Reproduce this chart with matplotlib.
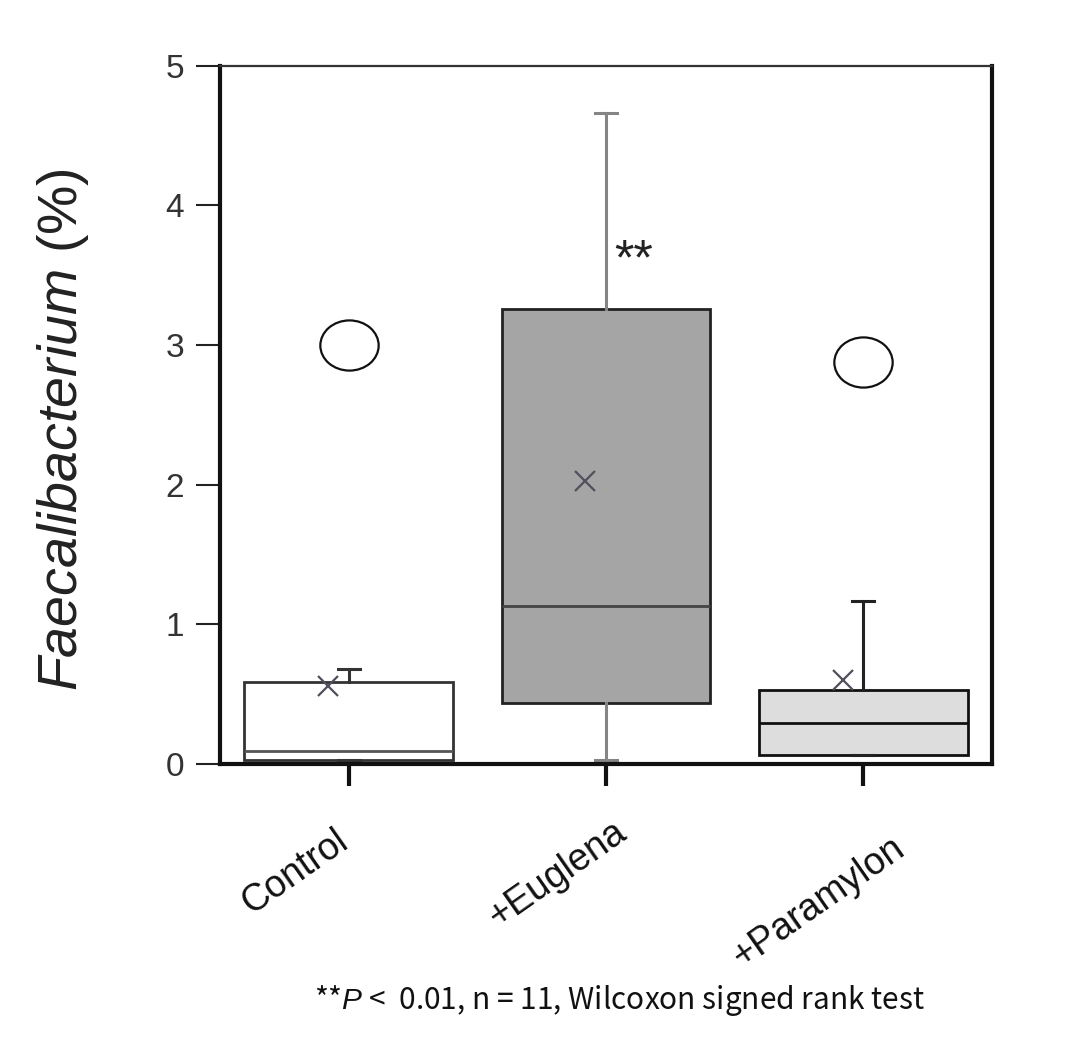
import numpy as np
import matplotlib
matplotlib.use("Agg")
import matplotlib.pyplot as plt
from matplotlib.path import Path

# box summaries (% Faecalibacterium)
groups = ["Control", "+Euglena", "+Paramylon"]
q1 = [0.03, 0.44, 0.065]
medians = [0.09, 1.13, 0.29]
q3 = [0.59, 3.26, 0.53]
whis_lo = [0.03, 0.03, 0.065]
whis_hi = [0.68, 4.66, 1.17]
means = [0.56, 2.03, 0.60]
outliers = [[3.0], [], [2.88]]

plt.rcParams["font.family"] = ["Liberation Sans", "DejaVu Sans"]
plt.rcParams["mathtext.fontset"] = "custom"
plt.rcParams["mathtext.it"] = "Liberation Sans:italic"
plt.rcParams["mathtext.rm"] = "Liberation Sans"

fig = plt.figure(figsize=(10.92, 10.39), dpi=100)
ax = fig.add_axes([0.2015, 0.2647, 0.707, 0.672])

pos = np.arange(1, len(groups) + 1)
stats = []
for i in range(len(groups)):
    stats.append(dict(med=medians[i], q1=q1[i], q3=q3[i],
                      whislo=whis_lo[i], whishi=whis_hi[i],
                      fliers=outliers[i], label=groups[i]))

# slightly squashed circle for outliers
circ = Path.unit_circle()
oval = Path(circ.vertices * [1.0, 0.86], circ.codes)

bp = ax.bxp(stats, positions=pos, widths=0.81, capwidths=0.085,
            patch_artist=True, showfliers=True,
            flierprops=dict(marker=oval, markersize=42, markerfacecolor="white",
                            markeredgecolor="#111", markeredgewidth=1.6))

fills = ["white", "#a5a5a5", "#dcdddc"]
edge = ["#333", "#222", "#111"]
med_c = ["#555", "#444", "#111"]
whisk_c = ["#333", "#858585", "#222"]
for i, b in enumerate(bp["boxes"]):
    b.set_facecolor(fills[i])
    b.set_edgecolor(edge[i])
    b.set_linewidth(2.0)
    bp["medians"][i].set_color(med_c[i])
    bp["medians"][i].set_linewidth(2.0)
    for k in (2 * i, 2 * i + 1):
        bp["whiskers"][k].set_color(whisk_c[i])
        bp["whiskers"][k].set_linewidth(2.2)
        bp["caps"][k].set_color(whisk_c[i])
        bp["caps"][k].set_linewidth(2.2)

# mean markers, drawn a touch left of centre like the original
ax.plot(pos - 0.08, means, linestyle="none", marker="x", markersize=14,
        markeredgewidth=1.6, color="#50505e", zorder=5)

ax.text(2.03, 3.6, "**", fontsize=36, color="#222", va="center", ha="left")

ax.set_xlim(0.5, 3.5)
ax.set_ylim(0, 5)
ax.set_yticks([0, 1, 2, 3, 4, 5])
ax.set_xticks(pos)
ax.set_xticklabels([])

ax.tick_params(axis="y", direction="out", length=17, width=1.5, pad=9,
               labelsize=24, labelcolor="#333", colors="#222")
ax.tick_params(axis="x", direction="out", length=16, width=3, colors="#111")
for lab in ax.get_yticklabels():
    lab.set_color("#333")

for side in ["left", "bottom", "right"]:
    ax.spines[side].set_linewidth(3)
    ax.spines[side].set_color("#111")
ax.spines["top"].set_linewidth(1.6)
ax.spines["top"].set_color("#333")

# rotated category labels (centres sit left of each tick)
lab_dx = [-0.209, -0.19, -0.176]
lab_y = [-0.155, -0.159, -0.199]
for i, g in enumerate(groups):
    ax.text(pos[i] + lab_dx[i], lab_y[i], g, rotation=35, ha="center", va="center",
            rotation_mode="anchor", fontsize=27, color="#111",
            transform=ax.get_xaxis_transform())

ax.text(-0.203, 0.479, r"$\it{Faecalibacterium}$ (%)", rotation=90,
        ha="center", va="center", fontsize=40, color="#222",
        transform=ax.transAxes)

fig.text(0.567, 1 - 1000 / 1039,
         r"**$\it{P}$ <  0.01, n = 11, Wilcoxon signed rank test",
         ha="center", va="center", fontsize=21.5, color="#111",
         family=["Noto Sans CJK JP", "DejaVu Sans"])

fig.savefig("out.png", dpi=100)
